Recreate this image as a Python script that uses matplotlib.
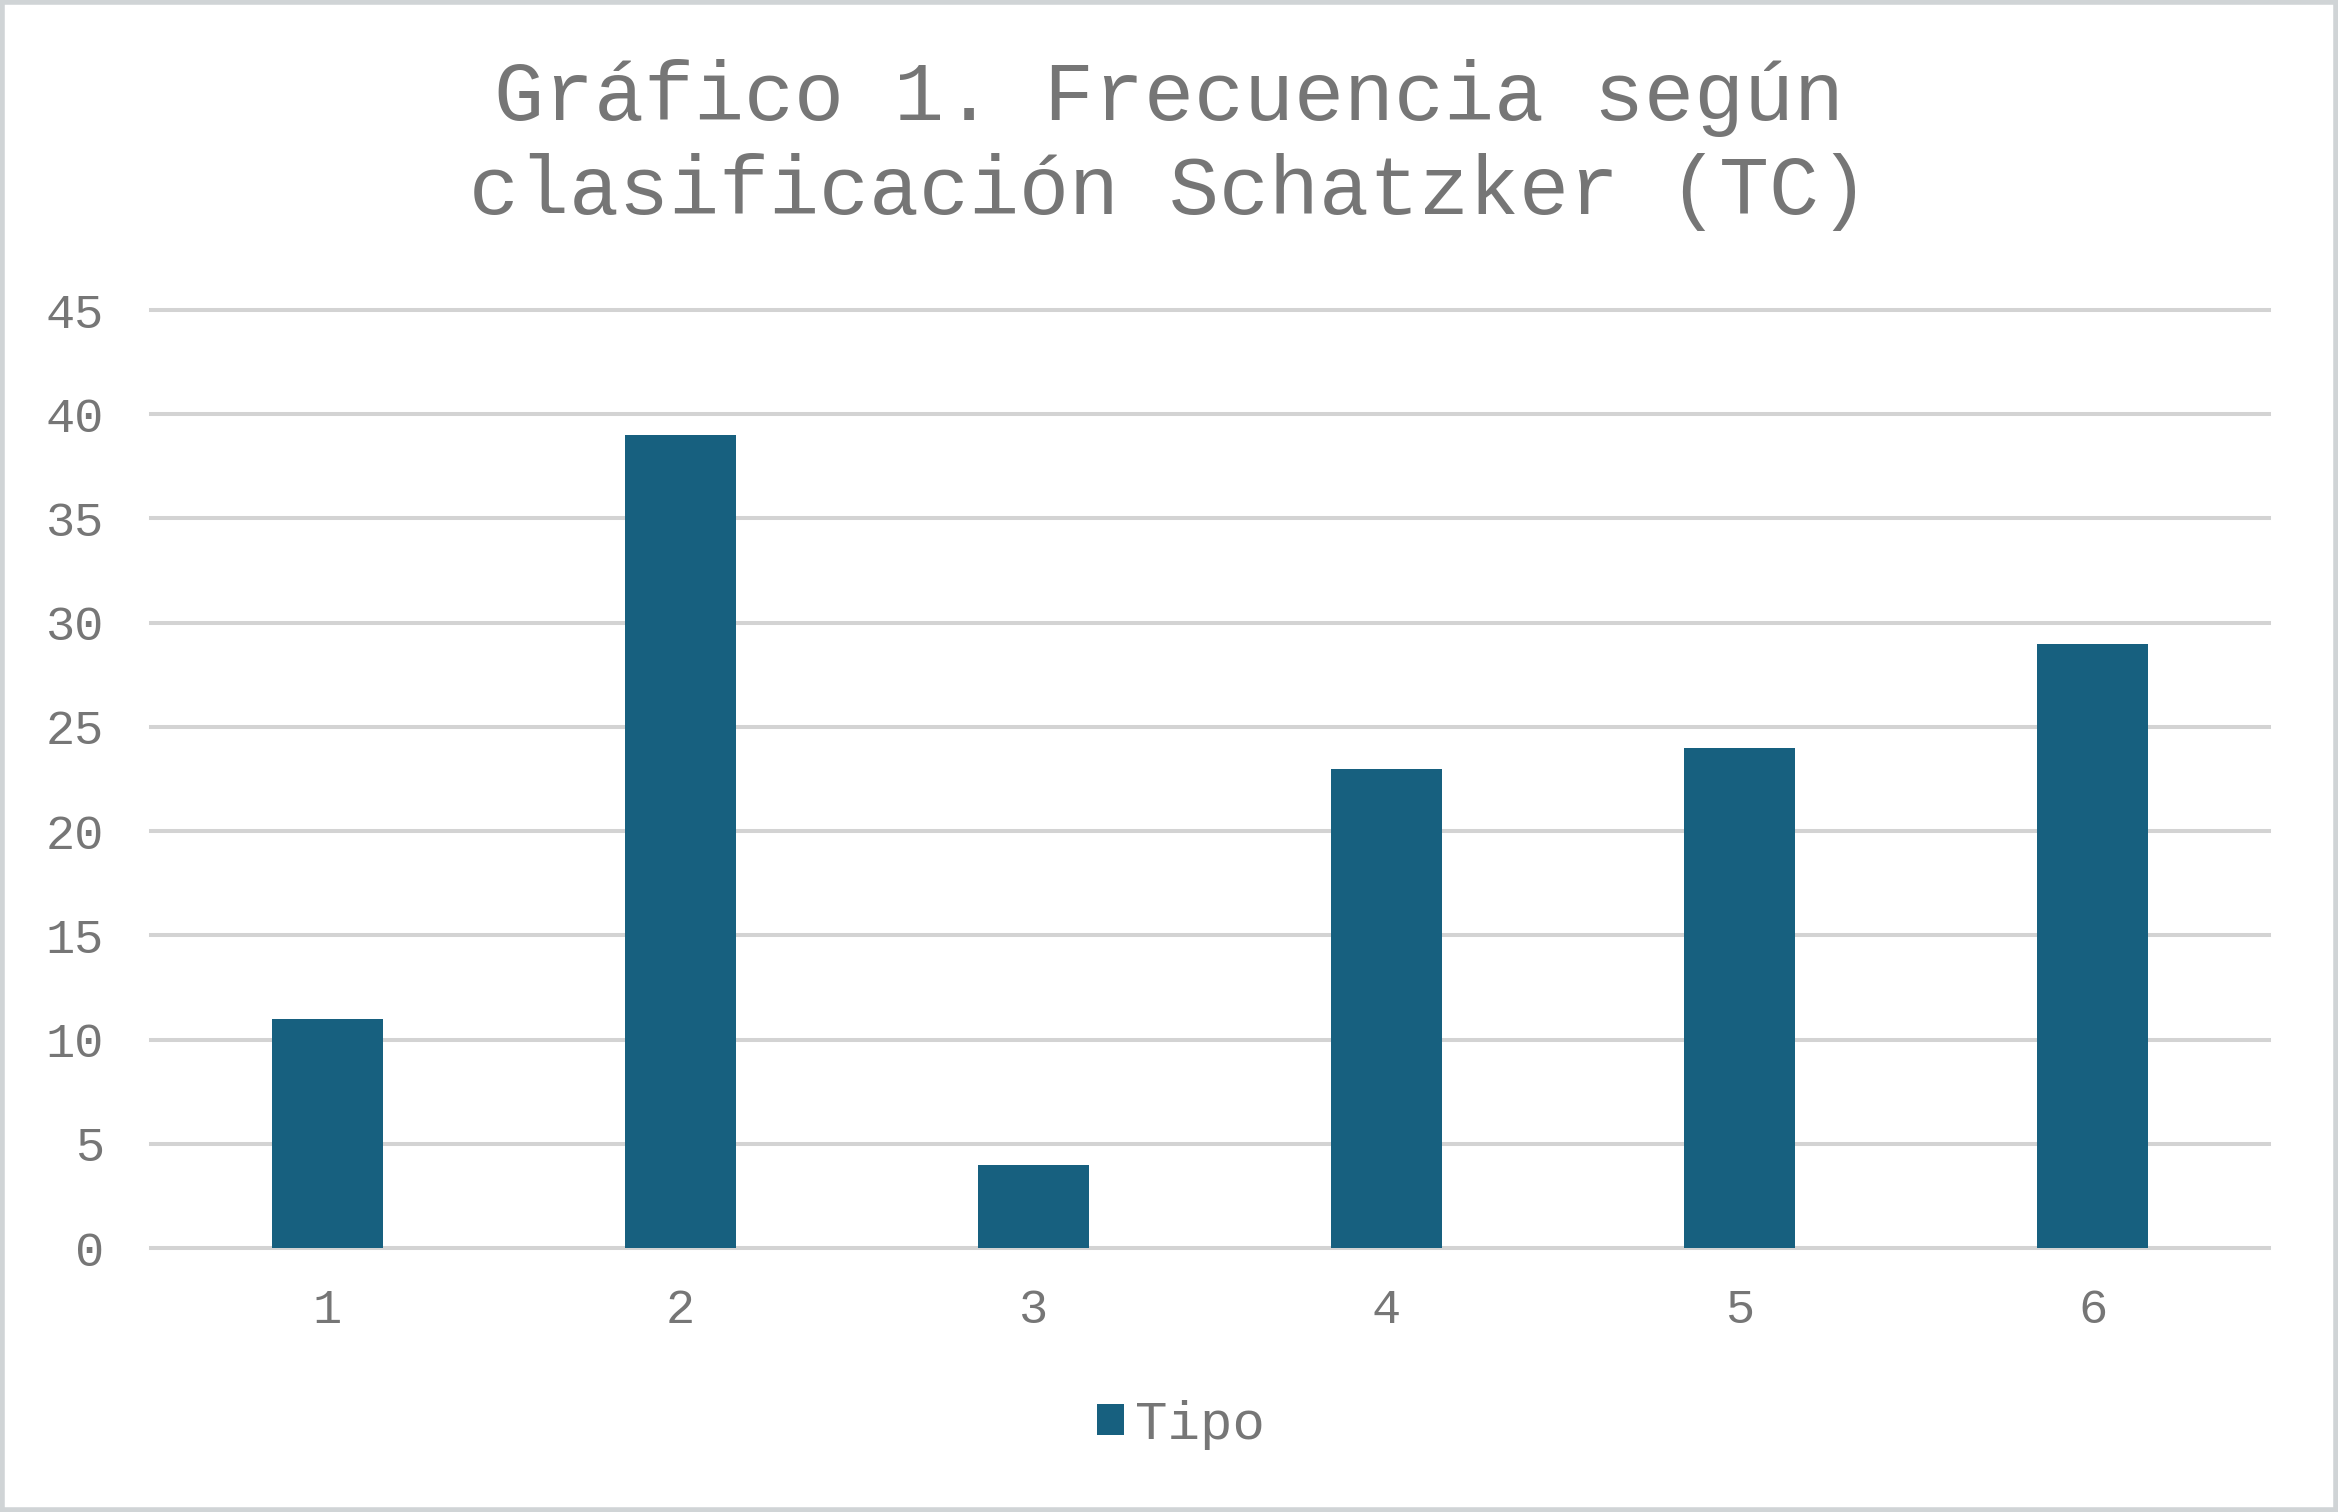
import matplotlib
matplotlib.use("Agg")
import matplotlib.pyplot as plt
from matplotlib.patches import Rectangle

categories = ["1", "2", "3", "4", "5", "6"]
values = [11, 39, 4, 23, 24, 29]
series_name = "Tipo"
title_lines = ["Gráfico 1. Frecuencia según", "clasificación Schatzker (TC)"]
yticks = [0, 5, 10, 15, 20, 25, 30, 35, 40, 45]

W, H = 2338, 1512
fig = plt.figure(figsize=(W / 100, H / 100), dpi=100)
fig.patch.set_facecolor("white")

font = ["Liberation Mono", "DejaVu Sans Mono"]
txt_color = "#767676"
bar_color = "#17607F"
grid_color = "#D3D3D3"

left, right = 151 / W, 2269 / W
bottom, top = 1 - 1248 / H, 1 - 310 / H
ax = fig.add_axes([left, bottom, right - left, top - bottom])

x = list(range(len(categories)))
ax.bar(x, values, width=0.316, color=bar_color, zorder=3, label=series_name)
ax.set_xlim(-0.5, len(categories) - 0.5)
ax.set_ylim(0, 45)
ax.set_yticks(yticks)
ax.set_xticks(x)
ax.set_xticklabels(categories)
for s in ax.spines.values():
    s.set_visible(False)
ax.tick_params(axis="both", length=0, colors=txt_color, labelsize=35)
ax.tick_params(axis="y", pad=34)
ax.tick_params(axis="x", pad=29)
for lab in ax.get_xticklabels() + ax.get_yticklabels():
    lab.set_family(font)
ax.yaxis.grid(True, color=grid_color, linewidth=2.9, zorder=0)
for gl in ax.yaxis.get_gridlines():
    gl.set_clip_on(False)
ax.set_axisbelow(True)

fig.text(1169 / W, 1 - 98 / H, title_lines[0], ha="center", va="center",
         fontsize=60, color=txt_color, family=font)
fig.text(1169 / W, 1 - 192 / H, title_lines[1], ha="center", va="center",
         fontsize=60, color=txt_color, family=font)

leg = fig.legend(loc="center", bbox_to_anchor=(1181 / W, 1 - 1425 / H),
                 frameon=False, handlelength=0.5, handleheight=0.5,
                 handletextpad=0.2, prop={"family": font, "size": 39})
for t in leg.get_texts():
    t.set_color(txt_color)

fig.patches.append(Rectangle((0.001, 0.0015), 0.998, 0.997, transform=fig.transFigure,
                             fill=False, edgecolor="#D0D4D6", linewidth=4))

fig.savefig("out.png", dpi=100, facecolor="white")
